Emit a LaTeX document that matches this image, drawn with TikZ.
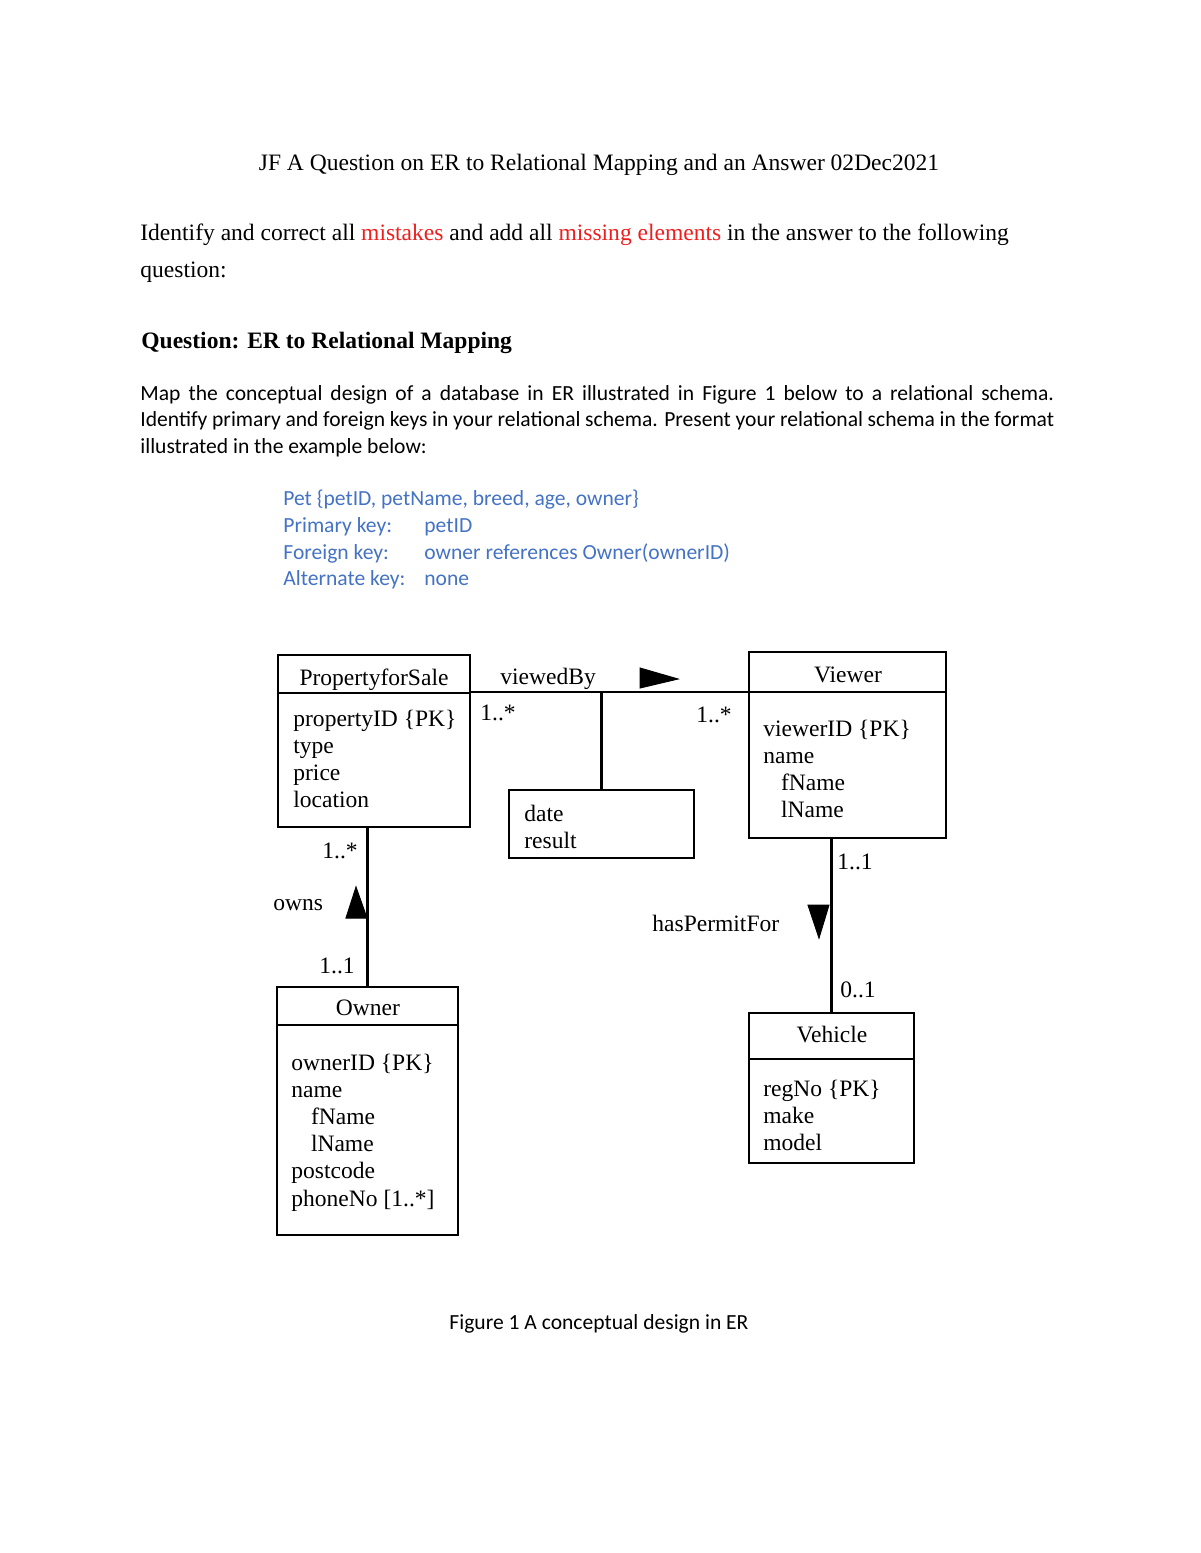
\documentclass[tikz,border=0pt]{standalone}
\usepackage{fontspec}
\setmainfont{Liberation Serif}
\newfontfamily\calibri{Carlito}
\usetikzlibrary{calc}
\definecolor{blueex}{RGB}{68,114,196}
\definecolor{redtx}{RGB}{238,30,30}
\begin{document}
\begin{tikzpicture}[x=0.51pt,y=-0.51pt,
  txt/.style={inner sep=0pt,anchor=base west},
  ttl/.style={txt,font=\fontsize{12}{14}\selectfont},
  bodyc/.style={txt,font=\calibri\fontsize{11}{13}\selectfont},
  bluec/.style={bodyc,text=blueex},
  dtxt/.style={txt,font=\fontsize{12}{13.8}\selectfont},
  hd/.style={inner sep=0pt,anchor=base,font=\fontsize{12}{13.8}\selectfont},
  attr/.style={inner sep=0pt,anchor=north west,align=left,font=\fontsize{12}{13.8}\selectfont},
  ebox/.style={draw,line width=1.3pt,inner sep=0pt,outer sep=0pt,anchor=north west},
  conn/.style={line width=1.3pt},
  tri/.style={fill=black,draw=black,line width=0.5pt}
]
\useasboundingbox (0,0) rectangle (1200,1553);

% ---------- text of the page ----------
\node[ttl,anchor=base] (title) at (599,171) {JF A Question on ER to Relational Mapping and an Answer 02Dec2021};
\node[ttl] (ident) at (140,241) {Identify and correct all \textcolor{redtx}{mistakes} and add all \textcolor{redtx}{missing elements} in the answer to the following};
\node[ttl] (quest) at (140,277) {question:};
\node[ttl,font=\bfseries\fontsize{12}{14}\selectfont] (qhead) at (141,348) {Question: ER to Relational Mapping};
\node[bodyc] (m1) at (140,400) {\makebox[466pt][s]{Map the conceptual design of a database in ER illustrated in Figure 1 below to a relational schema.}};
\node[bodyc] (m2) at (140,426) {\makebox[466pt][s]{Identify primary and foreign keys in your relational schema. Present your relational schema in the format}};
\node[bodyc] (m3) at (140,453) {illustrated in the example below:};
\node[bluec] (b1) at (283,505) {Pet \{petID, petName, breed, age, owner\}};
\node[bluec] (b2) at (283,532) {Primary key:};
\node[bluec] (b2v) at (424,532) {petID};
\node[bluec] (b3) at (283,559) {Foreign key:};
\node[bluec] (b3v) at (424,559) {owner references Owner(ownerID)};
\node[bluec] (b4) at (283,585) {Alternate key:};
\node[bluec] (b4v) at (424,585) {none};
\node[bodyc,anchor=base] (cap) at (599,1329) {Figure 1 A conceptual design in ER};

% ---------- entity boxes ----------
\node[ebox,minimum width=192*0.51pt,minimum height=172*0.51pt] (psale) at (278,655) {};
\node[ebox,minimum width=197*0.51pt,minimum height=186*0.51pt] (viewer) at (749,652) {};
\node[ebox,minimum width=165*0.51pt,minimum height=150*0.51pt] (vehicle) at (749,1013) {};
\node[ebox,minimum width=181*0.51pt,minimum height=248*0.51pt] (owner) at (277,987) {};
\node[ebox,minimum width=185*0.51pt,minimum height=68*0.51pt] (datebox) at (509,790) {};

% header dividers
\draw[conn] (psale.west |- 0,693) -- (psale.east |- 0,693);
\draw[conn] (viewer.west |- 0,692) -- (viewer.east |- 0,692);
\draw[conn] (vehicle.west |- 0,1059) -- (vehicle.east |- 0,1059);
\draw[conn] (owner.west |- 0,1025) -- (owner.east |- 0,1025);

% headers
\node[hd] (psaleh) at (374,685) {PropertyforSale};
\node[hd] (viewerh) at (848,682) {Viewer};
\node[hd] (vehicleh) at (832,1042) {Vehicle};
\node[hd] (ownerh) at (368,1015) {Owner};

% attributes
\node[attr] (psalea) at (293,710) {propertyID \{PK\}\\type\\price\\location};
\node[attr] (viewera) at (763,720) {viewerID \{PK\}\\name\\\hspace*{9pt}fName\\\hspace*{9pt}lName};
\node[attr] (vehiclea) at (763,1080) {regNo \{PK\}\\make\\model};
\node[attr] (ownera) at (291,1054) {ownerID \{PK\}\\name\\\hspace*{10pt}fName\\\hspace*{10pt}lName\\postcode\\phoneNo [1..*]};
\node[attr] (datea) at (524,805) {date\\result};

% ---------- connectors ----------
\draw[conn] (psale.east |- 0,692) -- (viewer.west |- 0,692);
\draw[conn] (datebox.north) -- (datebox.north |- 0,692);
\draw[conn] (owner.north) -- (owner.north |- psale.south);
\draw[conn] (vehicle.north) -- (vehicle.north |- viewer.south);

% direction triangles
\fill[tri] (640,668) -- (640,688) -- (678,679) -- cycle;
\fill[tri] (356,887) -- (367,918) -- (346,918) -- cycle;
\fill[tri] (808,905) -- (829,905) -- (819,938) -- cycle;

% ---------- relationship labels ----------
\node[dtxt] (vb) at (500,684) {viewedBy};
\node[dtxt] (m11) at (480,720) {1..*};
\node[dtxt] (m12) at (696,722) {1..*};
\node[dtxt] (m21) at (837,869) {1..1};
\node[dtxt] (m22) at (840,997) {0..1};
\node[dtxt] (hp) at (652,931) {hasPermitFor};
\node[dtxt] (m31) at (322,858) {1..*};
\node[dtxt] (ow) at (273,910) {owns};
\node[dtxt] (m32) at (319,973) {1..1};
\end{tikzpicture}
\end{document}
